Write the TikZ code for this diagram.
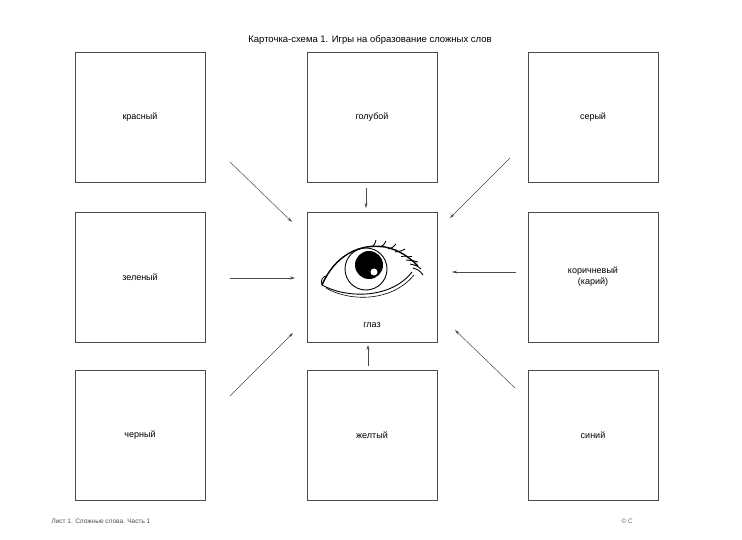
\documentclass[tikz,border=0pt]{standalone}
\usepackage{fontspec}
\setmainfont{Liberation Sans}
\usetikzlibrary{arrows.meta}
\begin{document}
\begin{tikzpicture}[x=1pt,y=-1pt,
  card/.style={draw=black!70,line width=0.6pt,minimum width=130pt,minimum height=130pt,inner sep=0pt},
  lab/.style={font=\fontsize{9}{11}\selectfont,align=center},
  arr/.style={-{Stealth[length=5pt,width=3pt]},line width=0.5pt,black!70}]
\useasboundingbox[fill=white] (0,0) rectangle (742,540);
\node[font=\fontsize{9.5}{11}\selectfont] (title) at (370,40) {Карточка-схема 1. Игры на образование сложных слов};
\node[card] (a) at (140,117) {}; \node[lab] at (a) {красный};
\node[card] (b) at (372,117) {}; \node[lab] at (b) {голубой};
\node[card] (c) at (593,117) {}; \node[lab] at (c) {серый};
\node[card] (d) at (140,277) {}; \node[lab] at (d) {зеленый};
\node[card] (e) at (372,277) {};
\node[card] (f) at (593,277) {}; \node[lab] at (f) {коричневый\\(карий)};
\node[card] (g) at (140,435) {}; \node[lab] at (g) {черный};
\node[card] (h) at (372,435) {}; \node[lab] at (h) {желтый};
\node[card] (i) at (593,435) {}; \node[lab] at (i) {синий};
\node[lab] (glaz) at (372,325) {глаз};
% arrows
\coordinate (a1) at (230,162); \coordinate (a2) at (292,222);
\coordinate (b1) at (366,188); \coordinate (b2) at (366,208);
\coordinate (c1) at (510,158); \coordinate (c2) at (450,218);
\coordinate (d1) at (230,278); \coordinate (d2) at (295,278);
\coordinate (f1) at (516,272); \coordinate (f2) at (452,272);
\coordinate (g1) at (230,396); \coordinate (g2) at (293,333);
\coordinate (h1) at (368,366); \coordinate (h2) at (368,345);
\coordinate (i1) at (515,388); \coordinate (i2) at (455,330);
\foreach \p in {a,b,c,d,f,g,h,i} \draw[arr] (\p1) -- (\p2);
% eye
\draw[line width=1.4pt,line join=round] (322,285) .. controls (335,255) and (360,243) .. (385,247) .. controls (400,250) and (410,258) .. (418,266);
\draw[line width=0.9pt] (322,285) .. controls (345,298) and (390,300) .. (412,272);
\draw[line width=0.6pt] (326,288) .. controls (350,302) and (392,302) .. (414,275);
\draw[line width=0.8pt] (322,285) .. controls (320,280) and (323,276) .. (327,276);
\draw[line width=0.9pt] (366,269) circle (21);
\fill (369,265) circle (14);
\fill[white] (374,272) circle (3.5);
\foreach \x/\y/\dx/\dy in {372/247/4/-7,380/247/6/-6,388/249/8/-5,395/252/10/-3,401/256/11/0,406/260/12/2,410/264/11/5,413/268/10/7}
  \draw[line width=0.9pt] (\x,\y) .. controls ++(\dx*0.6,\dy*0.3) .. ++(\dx,\dy);
\node[anchor=west,font=\fontsize{6.5}{8}\selectfont,black!70] (foot) at (48,521) {Лист 1. Сложные слова. Часть 1};
\node[anchor=west,font=\fontsize{6.5}{8}\selectfont,black!60] (copy) at (618,521) {© С};
\end{tikzpicture}
\end{document}
